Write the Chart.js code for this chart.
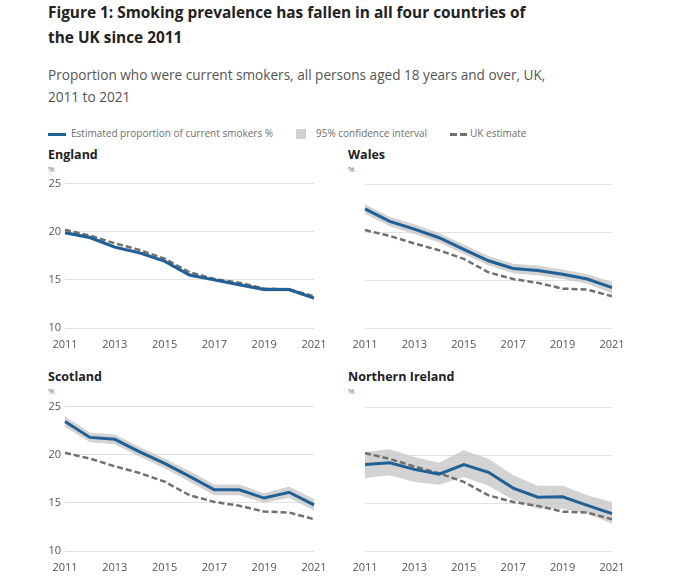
<!DOCTYPE html>
<html><head><meta charset="utf-8">
<script src="https://cdn.jsdelivr.net/npm/chart.js@4.4.1/dist/chart.umd.min.js"></script>
<style>
body{margin:0;background:#fff;font-family:"Open Sans",sans-serif;width:696px;height:579px;position:relative;overflow:hidden}
.t{position:absolute;left:48px;top:0;font-weight:700;font-size:15.4px;line-height:25px;color:#222}
.s{position:absolute;left:48px;top:64px;font-size:13.6px;line-height:22px;color:#555}
.lg{position:absolute;top:126px;font-size:10px;color:#707070;line-height:14px;white-space:nowrap}
.pt{position:absolute;font-weight:700;font-size:12.5px;color:#222;line-height:16px}
.pc{position:absolute;font-size:8px;color:#707070;line-height:10px}
canvas{position:absolute}
</style></head><body>
<div class="t">Figure 1: Smoking prevalence has fallen in all four countries of<br>the UK since 2011</div>
<div class="s">Proportion who were current smokers, all persons aged 18 years and over, UK,<br>2011 to 2021</div>
<div class="lg" style="left:48px"><span style="display:inline-block;width:18px;height:3px;background:#206095;vertical-align:middle;margin-right:5px"></span>Estimated proportion of current smokers %</div>
<div class="lg" style="left:296px"><span style="display:inline-block;width:10px;height:10px;background:#d0d0d0;vertical-align:middle;margin-right:10px"></span>95% confidence interval</div>
<div class="lg" style="left:450px"><span style="display:inline-block;width:7px;height:2.5px;background:#707070;vertical-align:middle;margin-right:3px"></span><span style="display:inline-block;width:7px;height:2.5px;background:#707070;vertical-align:middle;margin-right:3px"></span>UK estimate</div>

<div class="pt" style="left:48px;top:147px">England</div>
<div class="pc" style="left:48px;top:164px">%</div>
<div class="pt" style="left:348px;top:147px">Wales</div>
<div class="pc" style="left:348px;top:164px">%</div>
<div class="pt" style="left:48px;top:369px">Scotland</div>
<div class="pc" style="left:48px;top:386px">%</div>
<div class="pt" style="left:348px;top:369px">Northern Ireland</div>
<div class="pc" style="left:348px;top:386px">%</div>

<canvas id="c1" style="left:44px;top:173px" width="286" height="175"></canvas>
<canvas id="c2" style="left:350px;top:179px" width="278" height="169"></canvas>
<canvas id="c3" style="left:44px;top:396px" width="286" height="175"></canvas>
<canvas id="c4" style="left:350px;top:402px" width="278" height="169"></canvas>

<script>
const years = [2011,2012,2013,2014,2015,2016,2017,2018,2019,2020,2021];
const yTicks = [10,15,20,25];
const ukEstimate = [20.2,19.6,18.8,18.1,17.2,15.8,15.1,14.7,14.1,14.0,13.3];

const englandValues = [19.9,19.4,18.4,17.8,16.95,15.5,15.0,14.5,14.0,14.0,13.1];
const englandLower  = [19.7,19.2,18.2,17.6,16.75,15.3,14.8,14.3,13.8,13.8,12.9];
const englandUpper  = [20.1,19.6,18.6,18.0,17.15,15.7,15.2,14.7,14.2,14.2,13.3];

const walesValues = [22.4,21.1,20.3,19.4,18.2,17.0,16.2,16.0,15.6,15.1,14.2];
const walesLower  = [21.9,20.6,19.8,18.9,17.7,16.5,15.7,15.5,15.1,14.6,13.6];
const walesUpper  = [22.9,21.6,20.8,19.9,18.7,17.5,16.7,16.5,16.1,15.6,14.8];

const scotlandValues = [23.45,21.8,21.6,20.3,19.1,17.75,16.35,16.35,15.5,16.1,14.8];
const scotlandLower  = [22.9,21.3,21.1,19.8,18.6,17.2,15.8,15.8,15.0,15.5,14.2];
const scotlandUpper  = [24.0,22.3,22.1,20.8,19.6,18.3,16.9,16.9,16.0,16.7,15.4];

const niValues = [19.0,19.2,18.5,18.0,19.0,18.2,16.55,15.6,15.65,14.75,13.9];
const niLower  = [17.6,17.9,17.2,16.9,17.7,16.8,15.3,14.4,14.4,13.9,12.85];
const niUpper  = [20.3,20.6,19.8,19.2,20.5,19.6,17.9,16.8,16.8,15.8,15.1];

function makeChart(id, values, lower, upper, showY) {
  new Chart(document.getElementById(id), {
    type: 'line',
    data: {
      labels: years.map(String),
      datasets: [
        {data: upper, borderWidth: 0, pointRadius: 0, backgroundColor: 'rgba(200,200,200,0.8)', fill: '+1', order: 3},
        {data: lower, borderWidth: 0, pointRadius: 0, fill: false, order: 3},
        {data: ukEstimate, borderColor: '#707070', borderWidth: 2.5, borderDash: [6,3], pointRadius: 0, fill: false, order: 2},
        {data: values, borderColor: '#206095', borderWidth: 3, pointRadius: 0, fill: false, order: 1}
      ]
    },
    options: {
      responsive: false, animation: false,
      layout: {padding: {top: showY ? 0 : 5, right: 16, left: 0, bottom: 0}},
      plugins: {legend: {display: false}, tooltip: {enabled: false}},
      scales: {
        x: {
          grid: {display: false}, border: {display: false},
          ticks: {color: '#555', font: {family: 'Open Sans', size: 11}, autoSkip: false, maxRotation: 0, padding: 2,
                  callback: function(v, i){ return i % 2 === 0 ? this.getLabelForValue(v) : ''; }},
          afterFit: s => { s.height = 20; }
        },
        y: {
          min: 10, max: 25, afterBuildTicks: s => { s.ticks = yTicks.map(v => ({value: v})); },
          grid: {color: '#e2e2e2', drawTicks: false}, border: {display: false},
          ticks: {display: showY, color: '#555', font: {family: 'Open Sans', size: 11}, padding: 4},
          afterFit: s => { s.width = showY ? 21 : 15; }
        }
      }
    }
  });
}
makeChart('c1', englandValues, englandLower, englandUpper, true);
makeChart('c2', walesValues, walesLower, walesUpper, false);
makeChart('c3', scotlandValues, scotlandLower, scotlandUpper, true);
makeChart('c4', niValues, niLower, niUpper, false);
</script>
</body></html>
